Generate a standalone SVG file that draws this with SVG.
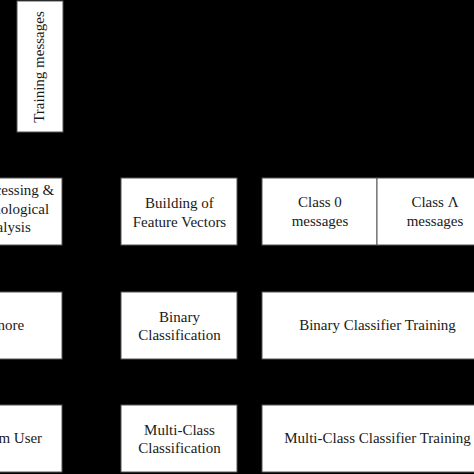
<svg xmlns="http://www.w3.org/2000/svg" width="474" height="474" viewBox="0 0 474 474">
<style>
.box{fill:#fff;stroke:#555;stroke-width:1}
text{font-family:"Liberation Serif","Times New Roman",serif;font-size:15px;fill:#1a1a1a;text-anchor:middle}
</style>
<rect width="474" height="474" fill="#000"/>
<g id="training">
<rect class="box" x="17" y="1" width="46" height="131"/>
<text transform="translate(44,67) rotate(-90)">Training messages</text>
</g>
<g id="preprocessing">
<rect class="box" x="-53" y="178" width="115" height="67"/>
<text x="4.5" y="195">Preprocessing &amp;</text>
<text x="4.5" y="213.5">Morphological</text>
<text x="4.5" y="232">Analysis</text>
</g>
<g id="features">
<rect class="box" x="121" y="178" width="116" height="67"/>
<text x="179.5" y="208">Building of</text>
<text x="179.5" y="226.5">Feature Vectors</text>
</g>
<g id="class0">
<rect class="box" x="262" y="178" width="115" height="67"/>
<text x="320" y="207">Class 0</text>
<text x="320" y="225.5">messages</text>
</g>
<g id="classA">
<rect class="box" x="377" y="178" width="115" height="67"/>
<text x="435" y="207">Class Λ</text>
<text x="435" y="225.5">messages</text>
</g>
<g id="ignore">
<rect class="box" x="-53" y="292" width="115" height="67"/>
<text x="4.5" y="330">Ignore</text>
</g>
<g id="binary">
<rect class="box" x="121" y="292" width="116" height="67"/>
<text x="179.5" y="322">Binary</text>
<text x="179.5" y="340">Classification</text>
</g>
<g id="binaryTraining">
<rect class="box" x="262" y="292" width="230" height="67"/>
<text x="377.5" y="330">Binary Classifier Training</text>
</g>
<g id="spamUser">
<rect class="box" x="-53" y="405" width="115" height="67"/>
<text x="9" y="443">Spam User</text>
</g>
<g id="multiclass">
<rect class="box" x="121" y="405" width="116" height="67"/>
<text x="179.5" y="435">Multi-Class</text>
<text x="179.5" y="453">Classification</text>
</g>
<g id="multiTraining">
<rect class="box" x="262" y="405" width="230" height="67"/>
<text x="377.5" y="443">Multi-Class Classifier Training</text>
</g>
<g id="connectors"></g>
</svg>
